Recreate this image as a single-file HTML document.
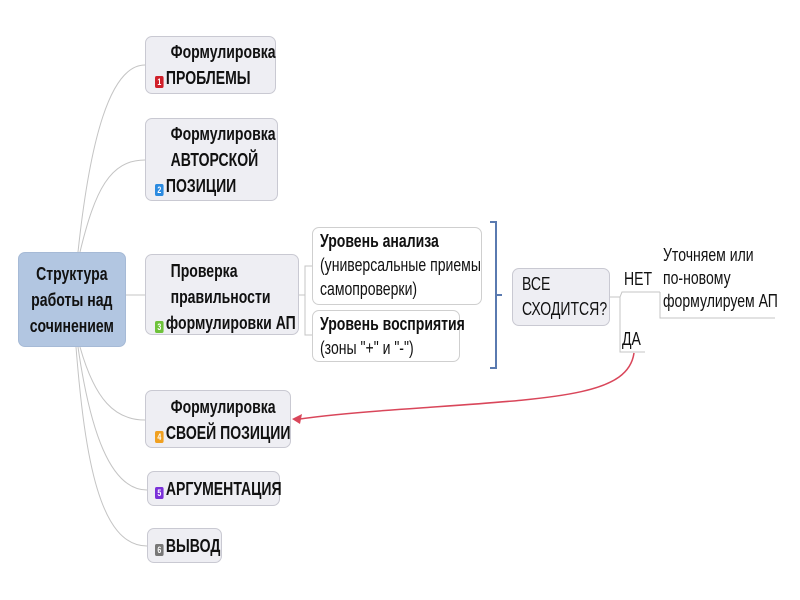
<!DOCTYPE html>
<html><head><meta charset="utf-8"><style>
body{margin:0;width:800px;height:600px;background:#fff;position:relative;overflow:hidden;font-family:"Liberation Sans",sans-serif;}
.n{position:absolute;box-sizing:border-box;background:#eeeef3;border:1px solid #c9c9d2;border-radius:7px;color:#111;}
.w{background:#fff;border:1px solid #cfcfcf;}
.s{position:absolute;white-space:nowrap;transform:scaleX(.78);transform-origin:0 0;font-size:18px;line-height:26px;font-weight:bold;color:#111}
.r{font-weight:normal}
.ic{display:inline-block;width:11px;height:12px;border-radius:2px;vertical-align:-1px;margin-right:3px;font-size:9px;line-height:12px;color:#fff;text-align:center}
</style></head><body>
<svg width="800" height="600" style="position:absolute;left:0;top:0">
<g fill="none" stroke="#c4c4c4" stroke-width="1">
<path d="M78 252 C90 140 110 65 145 65"/>
<path d="M80 252 C95 190 110 160 145 160"/>
<path d="M126 295 L145 295"/>
<path d="M80 347 C95 400 115 420 145 420"/>
<path d="M78 347 C90 430 110 490 147 490"/>
<path d="M76 347 C85 460 100 546 147 546"/>
<path d="M299 295 L305 295 L305 266 L312 266 M305 295 L305 335 L312 335"/>
<path d="M610 297 L620 297 L622 292 L660 292 M620 297 L620 352 L645 352"/>
<path d="M660 292 L660 318 L775 318"/>
</g>
<path d="M490 222 L496 222 L496 368 L490 368 M496 295 L502 295" fill="none" stroke="#5a7ab0" stroke-width="2"/>
<path d="M634 353 C628 395 560 398 420 408 C360 412 320 416 300 419" fill="none" stroke="#d9465a" stroke-width="1.5"/>
<path d="M292 419 L302 414 L300 424 Z" fill="#d9465a"/>
</svg>
<div class="n" style="left:18px;top:252px;width:108px;height:95px;background:#b2c6e1;border-color:#a6bad6"></div>
<div class="s" style="left:18px;top:261px;width:138px;text-align:center">Структура<br>работы над<br>сочинением</div>

<div class="n" style="left:145px;top:36px;width:131px;height:58px"></div>
<div class="s" style="left:155px;top:39px">&nbsp;&nbsp;&nbsp;&nbsp;Формулировка<br><span class="ic" style="background:#d0202a">1</span>ПРОБЛЕМЫ</div>

<div class="n" style="left:145px;top:118px;width:133px;height:83px"></div>
<div class="s" style="left:155px;top:121px">&nbsp;&nbsp;&nbsp;&nbsp;Формулировка<br>&nbsp;&nbsp;&nbsp;&nbsp;АВТОРСКОЙ<br><span class="ic" style="background:#2b8ae0">2</span>ПОЗИЦИИ</div>

<div class="n" style="left:145px;top:254px;width:154px;height:81px"></div>
<div class="s" style="left:155px;top:258px">&nbsp;&nbsp;&nbsp;&nbsp;Проверка<br>&nbsp;&nbsp;&nbsp;&nbsp;правильности<br><span class="ic" style="background:#6ec23a">3</span>формулировки АП</div>

<div class="n w" style="left:312px;top:227px;width:170px;height:78px"></div>
<div class="s r" style="left:320px;top:229px;line-height:24px"><b>Уровень анализа</b><br>(универсальные приемы<br>самопроверки)</div>

<div class="n w" style="left:312px;top:310px;width:148px;height:52px"></div>
<div class="s r" style="left:320px;top:312px;line-height:24px"><b>Уровень восприятия</b><br>(зоны "+" и "-")</div>

<div class="n" style="left:512px;top:268px;width:98px;height:58px"></div>
<div class="s r" style="left:522px;top:272px;line-height:25px">ВСЕ<br>СХОДИТСЯ?</div>

<div class="s r" style="left:624px;top:266px">НЕТ</div>
<div class="s r" style="left:663px;top:244px;line-height:23px">Уточняем или<br>по-новому<br>формулируем АП</div>
<div class="s r" style="left:622px;top:326px">ДА</div>

<div class="n" style="left:145px;top:390px;width:146px;height:58px"></div>
<div class="s" style="left:155px;top:394px">&nbsp;&nbsp;&nbsp;&nbsp;Формулировка<br><span class="ic" style="background:#f0a020">4</span>СВОЕЙ ПОЗИЦИИ</div>

<div class="n" style="left:147px;top:471px;width:133px;height:35px"></div>
<div class="s" style="left:155px;top:476px"><span class="ic" style="background:#7a30d8">5</span>АРГУМЕНТАЦИЯ</div>

<div class="n" style="left:147px;top:528px;width:75px;height:35px"></div>
<div class="s" style="left:155px;top:533px"><span class="ic" style="background:#777">6</span>ВЫВОД</div>
</body></html>
